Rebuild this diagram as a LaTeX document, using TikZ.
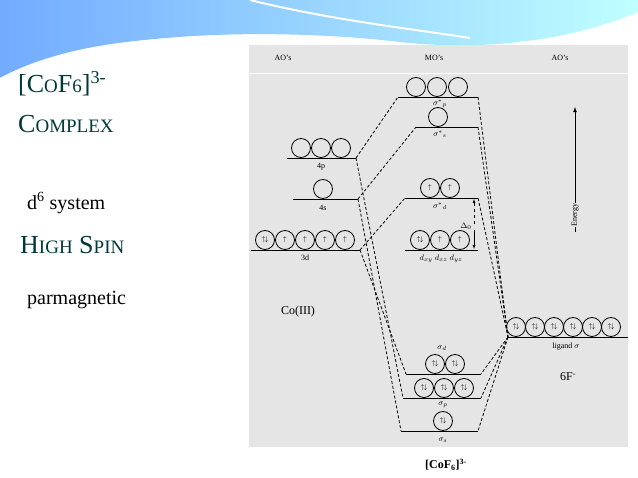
\documentclass[tikz,border=0pt]{standalone}
\usepackage{fontspec}
\setmainfont{Liberation Serif}
\newcommand\sml[1]{{\fontsize{19}{19}\selectfont #1}}
\begin{document}
\begin{tikzpicture}[x=1pt,y=-1pt,
 orb/.style={circle,draw,line width=0.8pt,minimum size=19pt,inner sep=0pt,font=\fontsize{7}{7}\selectfont},
 lvl/.style={line width=0.9pt},
 dl/.style={dashed,line width=0.8pt,dash pattern=on 3pt off 2pt},
 lab/.style={font=\fontsize{8}{8}\selectfont,inner sep=1pt},
 ttl/.style={font=\fontsize{26}{26}\selectfont,text=teal!45!black,anchor=west,inner sep=0pt},
 body/.style={font=\fontsize{20}{20}\selectfont,anchor=west,inner sep=0pt}]
\useasboundingbox (0,0) rectangle (638,478);
\fill[white] (0,0) rectangle (638,478);
% top wave
\shade[left color=cyan!40!blue!55,right color=cyan!25] (0,0) -- (638,0) -- (638,12) .. controls (560,45) and (470,50) .. (400,42) .. controls (300,30) and (100,25) .. (0,78) -- cycle;
\fill[white] (0,78) .. controls (80,35) and (200,32) .. (320,42) .. controls (200,40) and (100,45) .. (0,86) -- cycle;
\draw[white,line width=2pt] (250,0) .. controls (330,20) and (420,30) .. (470,38);
\draw[white,line width=1pt] (638,20) .. controls (600,30) and (560,40) .. (520,42);
% panel
\fill[black!10] (249,45) rectangle (628,447);
\draw[white,line width=0.8pt] (249,73) -- (628,73);
\node[lab] (h1) at (283,58) {AO's};
\node[lab] (h2) at (434,58) {MO's};
\node[lab] (h3) at (560,58) {AO's};
% levels
\foreach \n/\a/\b/\y in {sps/398/478/97, sss/416/478/127, p4/287/356/158, s4/293/358/199, sds/405/478/198, d3/251/360/250, t2/405/478/250, lig/508/628/337, sd/406/481/374, sp/403/481/398, ss/401/478/431}{
 \coordinate (\n L) at (\a,\y); \coordinate (\n R) at (\b,\y);
 \draw[lvl] (\n L) -- (\n R);}
% orbitals
\foreach \i/\x in {1/416,2/437,3/458} \node[orb] (a\i) at (\x,87) {};
\node[orb] (b1) at (438,117) {};
\foreach \i/\x in {1/301,2/321,3/341} \node[orb] (c\i) at (\x,148) {};
\node[orb] (e1) at (323,189) {};
\foreach \i/\x in {1/430,2/450} \node[orb] (f\i) at (\x,188) {$\uparrow$};
\node[orb] (g1) at (265,240) {$\uparrow\!\downarrow$};
\foreach \i/\x in {2/285,3/305,4/325,5/345} \node[orb] (g\i) at (\x,240) {$\uparrow$};
\node[orb] (h1o) at (420,240) {$\uparrow\!\downarrow$};
\foreach \i/\x in {2/440,3/460} \node[orb] (h\i o) at (\x,240) {$\uparrow$};
\foreach \i/\x in {1/516,2/535,3/554,4/573,5/592,6/611} \node[orb] (l\i) at (\x,327) {$\uparrow\!\downarrow$};
\foreach \i/\x in {1/435,2/455} \node[orb] (m\i) at (\x,364) {$\uparrow\!\downarrow$};
\foreach \i/\x in {1/424,2/444,3/464} \node[orb] (n\i) at (\x,388) {$\uparrow\!\downarrow$};
\node[orb] (o1) at (443,421) {$\uparrow\!\downarrow$};
% level labels
\node[lab] (q1) at (440,104) {$\sigma^*{}_p$};
\node[lab] (q2) at (440,134) {$\sigma^*{}_s$};
\node[lab] (q3) at (321,167) {4p};
\node[lab] (q4) at (323,208) {4s};
\node[lab] (q5) at (440,206) {$\sigma^*{}_d$};
\node[lab] (q6) at (305,258) {3d};
\node[lab] (q7) at (441,259) {$d_{xy}\ d_{xz}\ d_{yz}$};
\node[lab] (q8) at (566,347) {ligand $\sigma$};
\node[lab] (q9) at (442,348) {$\sigma_d$};
\node[lab] (q10) at (443,405) {$\sigma_p$};
\node[lab] (q11) at (443,440) {$\sigma_s$};
% Delta
\coordinate (dt) at (474,199); \coordinate (db) at (474,249);
\draw[dashed,-latex] (474,224) -- (dt);
\draw[-latex] (474,230) -- (db);
\node[lab,fill=black!10] (dl0) at (466,226) {$\Delta_0$};
% energy
\coordinate (eb) at (575,232); \coordinate (et) at (575,107);
\draw[line width=0.8pt,-latex] (eb) -- (et);
\node[lab,rotate=90,fill=black!10] (en) at (575,215) {Energy};
% dashed connectors
\draw[dl] (p4R) -- (spsL);
\draw[dl] (s4R) -- (sssL);
\draw[dl] (d3R) -- (sdsL);
\draw[dl] (p4R) -- (spL);
\draw[dl] (s4R) -- (ssL);
\draw[dl] (d3R) -- (sdL);
\draw[dl] (spsR) -- (ligL);
\draw[dl] (sssR) -- (ligL);
\draw[dl] (sdsR) -- (ligL);
\draw[dl] (ligL) -- (sdR);
\draw[dl] (ligL) -- (spR);
\draw[dl] (ligL) -- (ssR);
% text
\node[font=\fontsize{12}{12}\selectfont] (co) at (298,312) {Co(III)};
\node[font=\fontsize{12}{12}\selectfont] (sf) at (568,377) {6F\textsuperscript{-}};
\node[font=\fontsize{12}{12}\selectfont\bfseries] (cf) at (446,465) {[CoF\textsubscript{6}]\textsuperscript{3-}};
\node[ttl] (t1) at (18,84) {[C\sml{O}F\sml{6}]\textsuperscript{3-}};
\node[ttl] (t2) at (18,124) {C\sml{OMPLEX}};
\node[body] (b1t) at (27,203) {d\textsuperscript{6} system};
\node[ttl] (t3) at (20,245) {H\sml{IGH} S\sml{PIN}};
\node[body] (b2t) at (27,300) {parmagnetic};
\end{tikzpicture}
\end{document}
